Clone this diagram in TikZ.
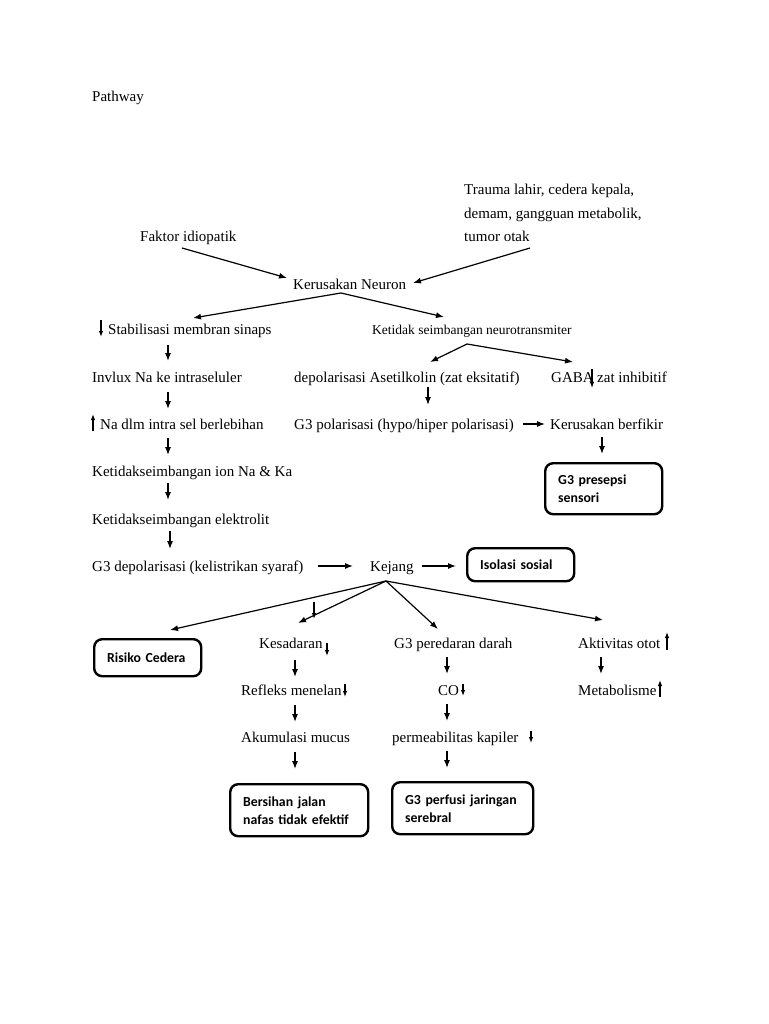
\documentclass[tikz,border=0pt]{standalone}
\usepackage{fontspec}
\setmainfont{Liberation Serif}
\newfontfamily\boxfont{Carlito}
\usetikzlibrary{arrows.meta}
\begin{document}
\begin{tikzpicture}[x=1pt,y=-1pt,
  txt/.style={anchor=west,inner sep=0pt,yshift=-2pt,text height=10pt,text depth=3pt,font=\fontsize{15}{18}\selectfont},
  smalltxt/.style={anchor=west,inner sep=0pt,yshift=-1.5pt,text height=9pt,text depth=2.5pt,font=\fontsize{13.5}{16}\selectfont},
  dxbox/.style={draw,rounded corners=8pt,line width=2.4pt,anchor=north west,inner xsep=13pt,inner ysep=0pt,align=left,font=\boxfont\bfseries\fontsize{13.8}{18}\selectfont},
  arr/.style={-{Latex[length=8pt,width=6pt]},line width=1.2pt},
  mini/.style={-{Latex[length=6pt,width=4.5pt]},line width=1.1pt}
]
\fill[white] (0,0) rectangle (768,1024);
\useasboundingbox (0,0) rectangle (768,1024);

% texts
\node[txt] (pathway) at (92,96) {Pathway};
\node[anchor=north west,inner sep=0pt,align=left,font=\fontsize{15}{23.5}\selectfont] (trauma) at (464,184) {Trauma lahir, cedera kepala,\\demam, gangguan metabolik,\\tumor otak};
\node[txt] (faktor) at (140,236) {Faktor idiopatik};
\node[txt] (neuron) at (293,284) {Kerusakan Neuron};
\node[txt] (stab) at (108,329) {Stabilisasi membran sinaps};
\node[smalltxt] (ketidak) at (372,330) {Ketidak seimbangan neurotransmiter};
\node[txt] (invlux) at (92,377) {Invlux Na ke intraseluler};
\node[txt] (depol) at (294,377) {depolarisasi Asetilkolin (zat eksitatif)};
\node[txt] (gaba) at (551,377) {GABA};
\node[txt] (zat) at (597,377) {zat inhibitif};
\node[txt] (na) at (100,424) {Na dlm intra sel berlebihan};
\node[txt] (polar) at (294,424) {G3 polarisasi (hypo/hiper polarisasi)};
\node[txt] (berfikir) at (550,424) {Kerusakan berfikir};
\node[txt] (ion) at (92,471) {Ketidakseimbangan ion Na \& Ka};
\node[txt] (elektro) at (92,519) {Ketidakseimbangan elektrolit};
\node[txt] (g3depol) at (92,566) {G3 depolarisasi (kelistrikan syaraf)};
\node[txt] (kejang) at (370,566) {Kejang};
\node[txt] (kesadaran) at (259,643) {Kesadaran};
\node[txt] (peredaran) at (394,643) {G3 peredaran darah};
\node[txt] (aktivitas) at (578,643) {Aktivitas otot};
\node[txt] (refleks) at (241,690) {Refleks menelan};
\node[txt] (co) at (438,690) {CO};
\node[txt] (metab) at (578,690) {Metabolisme};
\node[txt] (mucus) at (241,737) {Akumulasi mucus};
\node[txt] (perm) at (392,737) {permeabilitas kapiler};

% boxes
\node[dxbox,minimum width=117pt,minimum height=51pt,text width=91pt] (presepsi) at (544,462) {G3 presepsi\\sensori};
\node[dxbox,minimum width=107pt,minimum height=33pt,text width=81pt] (isolasi) at (466,547) {Isolasi sosial};
\node[dxbox,minimum width=107pt,minimum height=37pt,text width=81pt] (risiko) at (93,638) {Risiko Cedera};
\node[dxbox,minimum width=138pt,minimum height=52pt,text width=112pt] (bersihan) at (229,783) {Bersihan jalan\\nafas tidak efektif};
\node[dxbox,minimum width=141pt,minimum height=52pt,text width=115pt] (perfusi) at (391,781) {G3 perfusi jaringan\\serebral};

% coordinates for connector ends
\coordinate (f1) at (182,248); \coordinate (f2) at (287,278);
\coordinate (t1) at (530,248); \coordinate (t2) at (413,283);
\coordinate (n0) at (341,293); \coordinate (n1) at (193,318); \coordinate (n2) at (444,317);
\coordinate (k0) at (467,344); \coordinate (k1) at (430,362); \coordinate (k2) at (573,362);
\coordinate (a1s) at (168,345); \coordinate (a1e) at (168,361);
\coordinate (a2s) at (168,392); \coordinate (a2e) at (168,409);
\coordinate (a3s) at (168,438); \coordinate (a3e) at (168,455);
\coordinate (a4s) at (168,483); \coordinate (a4e) at (168,500);
\coordinate (a5s) at (170,531); \coordinate (a5e) at (170,549);
\coordinate (b1s) at (428,387); \coordinate (b1e) at (428,405);
\coordinate (p1) at (523,424); \coordinate (p2) at (545,424);
\coordinate (c1s) at (602,437); \coordinate (c1e) at (602,454);
\coordinate (g1) at (318,566); \coordinate (g2) at (353,566);
\coordinate (j1) at (422,566); \coordinate (j2) at (456,566);
\coordinate (j0) at (386,581);
\coordinate (r1) at (170,630); \coordinate (r2) at (298,623);
\coordinate (r3) at (438,629); \coordinate (r4) at (603,620);
\coordinate (d1s) at (295,660); \coordinate (d1e) at (295,677);
\coordinate (d2s) at (295,705); \coordinate (d2e) at (295,722);
\coordinate (d3s) at (295,752); \coordinate (d3e) at (295,769);
\coordinate (e1s) at (447,657); \coordinate (e1e) at (447,674);
\coordinate (e2s) at (447,704); \coordinate (e2e) at (447,721);
\coordinate (e3s) at (447,751); \coordinate (e3e) at (447,768);
\coordinate (h1s) at (601,657); \coordinate (h1e) at (601,674);

% connectors
\draw[arr] (f1) -- (f2);
\draw[arr] (t1) -- (t2);
\draw[arr] (n0) -- (n1);
\draw[arr] (n0) -- (n2);
\draw[arr] (k0) -- (k1);
\draw[arr] (k0) -- (k2);
\foreach \s/\e in {a1s/a1e,a2s/a2e,a3s/a3e,a4s/a4e,a5s/a5e,b1s/b1e,c1s/c1e,d1s/d1e,d2s/d2e,d3s/d3e,e1s/e1e,e2s/e2e,e3s/e3e,h1s/h1e}
  \draw[arr] (\s) -- (\e);
\draw[arr] (p1) -- (p2);
\draw[arr] (g1) -- (g2);
\draw[arr] (j1) -- (j2);
\draw[arr] (j0) -- (r1);
\draw[arr] (j0) -- (r2);
\draw[arr] (j0) -- (r3);
\draw[arr] (j0) -- (r4);

% inline up/down marks
\coordinate (m1s) at (101,320); \coordinate (m1e) at (101,337);
\coordinate (m2s) at (592,369); \coordinate (m2e) at (592,388);
\coordinate (m3s) at (93,431); \coordinate (m3e) at (93,414);
\coordinate (m4s) at (327,643); \coordinate (m4e) at (327,656);
\coordinate (m5s) at (345,684); \coordinate (m5e) at (345,697);
\coordinate (m6s) at (463,684); \coordinate (m6e) at (463,696);
\coordinate (m7s) at (531,731); \coordinate (m7e) at (531,743);
\coordinate (m8s) at (667,650); \coordinate (m8e) at (667,632);
\coordinate (m9s) at (660,697); \coordinate (m9e) at (660,680);
\coordinate (m10s) at (314,602); \coordinate (m10e) at (314,619);
\foreach \s/\e in {m1s/m1e,m2s/m2e,m3s/m3e,m4s/m4e,m5s/m5e,m6s/m6e,m7s/m7e,m8s/m8e,m9s/m9e,m10s/m10e}
  \draw[mini] (\s) -- (\e);
\end{tikzpicture}
\end{document}
